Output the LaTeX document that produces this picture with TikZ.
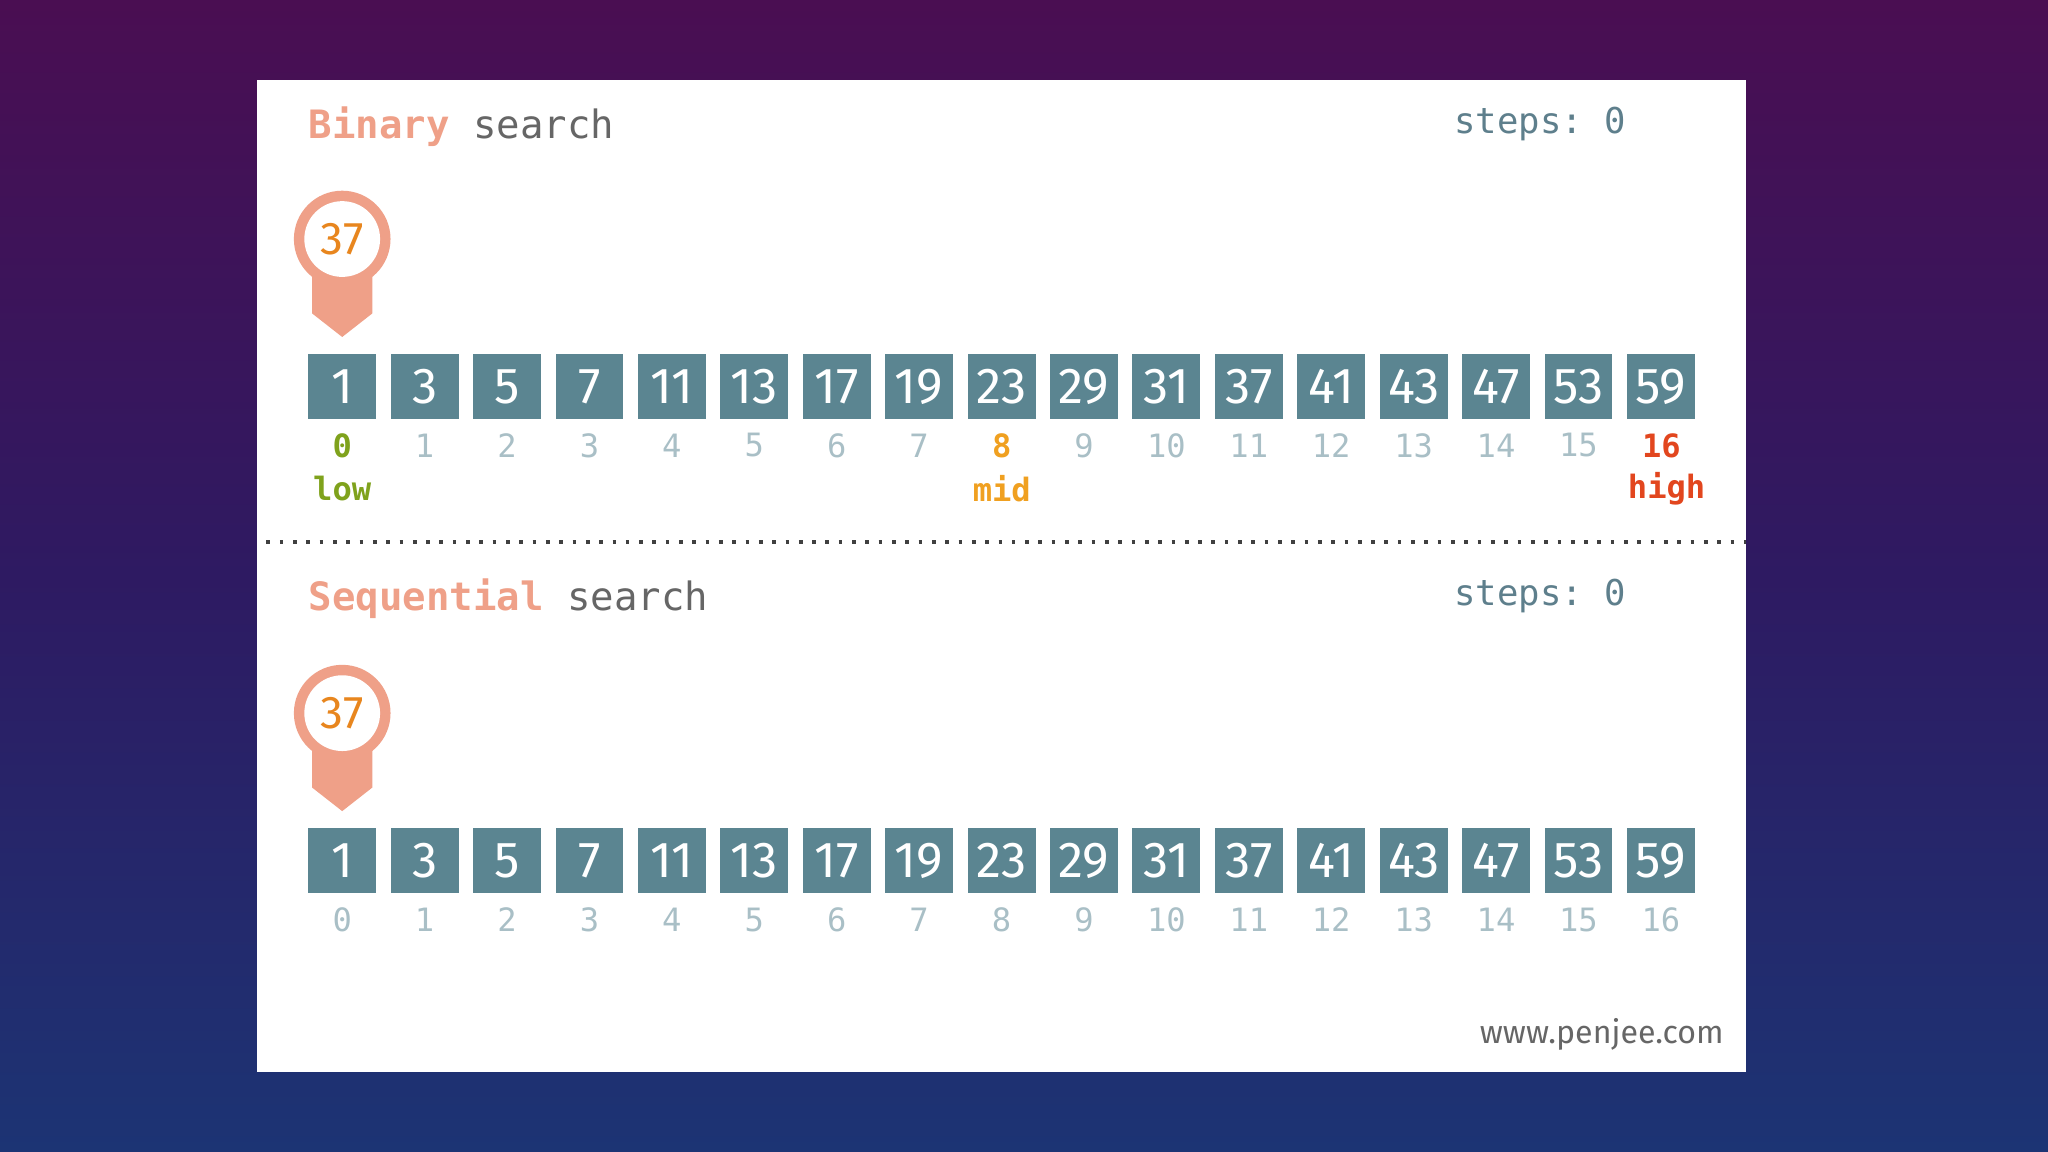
\documentclass[tikz,border=0pt]{standalone}
\usepackage{fontspec}
\setmainfont{Fira Sans}
\setmonofont{DejaVu Sans Mono}
\usetikzlibrary{positioning}
\definecolor{cell}{HTML}{5B8591}
\definecolor{idx}{HTML}{A9BFC6}
\definecolor{salmon}{HTML}{EFA088}
\definecolor{pinnum}{HTML}{E8861E}
\definecolor{lowc}{HTML}{7FA21C}
\definecolor{midc}{HTML}{F0A020}
\definecolor{highc}{HTML}{E2461E}
\definecolor{stepc}{HTML}{5E7F8C}
\definecolor{bgtop}{HTML}{4A0E52}
\definecolor{bgmid}{HTML}{2E1A62}
\definecolor{bgbot}{HTML}{1C3474}
\tikzset{
  cellbox/.style={rectangle, fill=cell, minimum width=1.04cm, minimum height=1cm,
    inner sep=0pt, text=white, font=\fontsize{22}{22}\selectfont},
  idxlabel/.style={text=idx, font=\ttfamily\fontsize{14}{14}\selectfont, inner sep=0pt},
  marklabel/.style={font=\ttfamily\bfseries\fontsize{14}{14}\selectfont, inner sep=0pt},
  title/.style={anchor=west, inner sep=0pt, font=\ttfamily\fontsize{17}{17}\selectfont},
  stepslabel/.style={anchor=east, inner sep=0pt, text=stepc, font=\ttfamily\fontsize{15.5}{15.5}\selectfont},
  pinnumber/.style={circle, inner sep=0pt, text=pinnum, font=\fontsize{20}{20}\selectfont},
}
\newcommand\drawpin[2]{%
  \fill[salmon] (262,#1) circle (37);
  \fill[salmon] (239,#1) -- (239,#1+57) -- (262,#1+75) -- (285,#1+57) -- (285,#1) -- cycle;
  \fill[white] (262,#1) circle (29);
  \node[pinnumber] (#2) at (262,#1) {37};
}
\begin{document}
\begin{tikzpicture}[x=0.02cm, y=-0.02cm]
\shade[top color=bgtop, bottom color=bgbot, middle color=bgmid] (0,0) rectangle (1568,882);
\fill[white] (197,61) rectangle (1337,821);
\useasboundingbox (0,0) rectangle (1568,882);
% binary search
\node[title] (btitle) at (236,97) {\textcolor{salmon}{\bfseries Binary} \textcolor{black!60}{search}};
\node[stepslabel] (bsteps) at (1245,95) {steps: 0};
\drawpin{183}{bpin}
\foreach \v [count=\i from 0] in {1,3,5,7,11,13,17,19,23,29,31,37,41,43,47,53,59}{
  \node[cellbox] (b\i) at (262+63.1*\i,296) {\v};
}
\foreach \i in {1,...,7,9,10,...,15}{
  \node[idxlabel] (bi\i) at (262+63.1*\i,341) {\i};
}
\node[marklabel, text=lowc] (bi0) at (262,341) {0};
\node[marklabel, text=midc] (bi8) at (767,341) {8};
\node[marklabel, text=highc] (bi16) at (1272,341) {16};
\node[marklabel, text=lowc] (low) at (262,374) {low};
\node[marklabel, text=midc] (mid) at (767,374) {mid};
\node[marklabel, text=highc] (high) at (1276,374) {high};
\draw[black!75, line width=1.6pt, dash pattern=on 1.6pt off 4.2pt] (204,415) -- (1337,415);
% sequential search
\node[title] (stitle) at (236,458) {\textcolor{salmon}{\bfseries Sequential} \textcolor{black!60}{search}};
\node[stepslabel] (ssteps) at (1245,456) {steps: 0};
\drawpin{546}{spin}
\foreach \v [count=\i from 0] in {1,3,5,7,11,13,17,19,23,29,31,37,41,43,47,53,59}{
  \node[cellbox] (s\i) at (262+63.1*\i,659) {\v};
  \node[idxlabel] (si\i) at (262+63.1*\i,704) {\i};
}
\node[anchor=east, inner sep=0pt, text=black!60, font=\fontsize{14}{14}\selectfont] (www) at (1320,792) {www.penjee.com};
\end{tikzpicture}
\end{document}
